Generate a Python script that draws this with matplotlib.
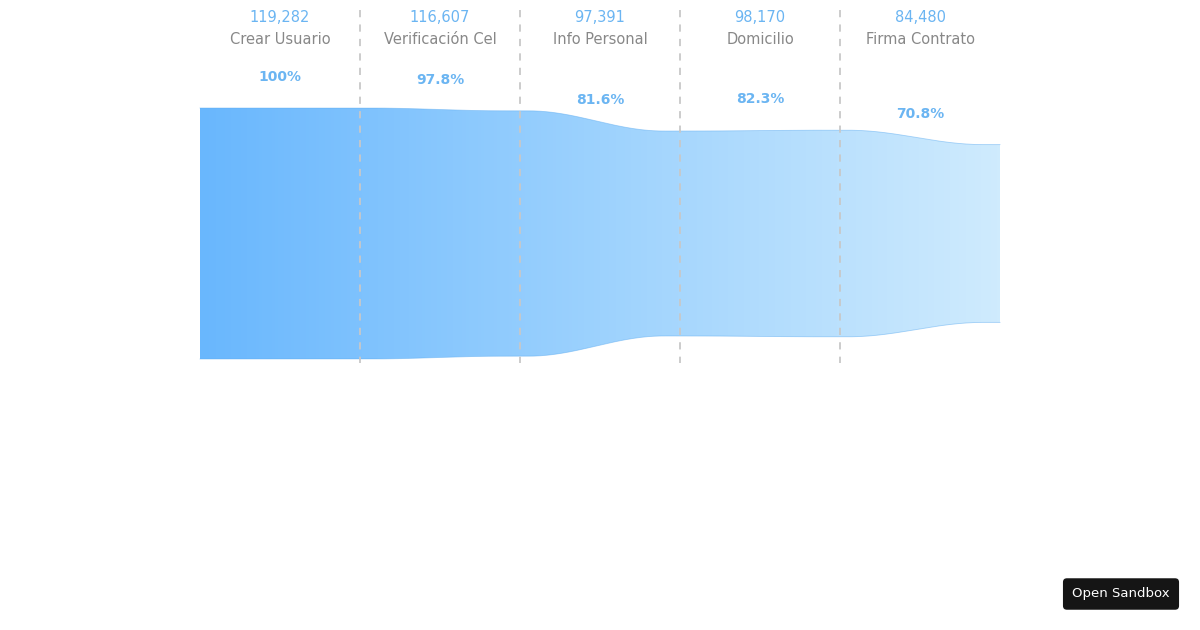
import numpy as np
import matplotlib
matplotlib.use("Agg")
import matplotlib.pyplot as plt
from matplotlib.colors import LinearSegmentedColormap
from matplotlib.path import Path
from matplotlib.patches import PathPatch

stages = ["Crear Usuario", "Verificación Cel", "Info Personal", "Domicilio", "Firma Contrato"]
values = [119282, 116607, 97391, 98170, 84480]

fig = plt.figure(figsize=(12, 6.3), dpi=100)
ax = fig.add_axes([0, 0, 1, 1])
ax.set_xlim(0, 1200)
ax.set_ylim(630, 0)
ax.axis("off")

x0, seg = 200, 160
cy, full_h = 233.5, 251
scale = full_h / values[0]

xs, tops, bots = [], [], []
for i, v in enumerate(values):
    xx = np.linspace(x0 + i * seg, x0 + (i + 1) * seg, 80)
    prev = values[i - 1] if i > 0 else v
    t = (xx - xx[0]) / seg
    s = np.clip((t - 0.05) / 0.85, 0, 1)
    s = (1 - np.cos(np.pi * s)) / 2
    h = (prev + (v - prev) * s) * scale
    xs.append(xx); tops.append(cy - h / 2); bots.append(cy + h / 2)
xs = np.concatenate(xs); tops = np.concatenate(tops); bots = np.concatenate(bots)

verts = list(zip(xs, tops)) + list(zip(xs[::-1], bots[::-1]))
path = Path(verts + [verts[0]], [Path.MOVETO] + [Path.LINETO] * (len(verts) - 1) + [Path.CLOSEPOLY])
patch = PathPatch(path, facecolor="none", edgecolor="none")
ax.add_patch(patch)
cmap = LinearSegmentedColormap.from_list("g", ["#69b7fd", "#9dd2fd", "#cfebfd"])
grad = np.linspace(0, 1, 256)[None, :]
im = ax.imshow(grad, extent=[200, 1000, 370, 100], cmap=cmap, aspect="auto", zorder=1)
im.set_clip_path(patch)
ax.plot(xs, tops, color="#5aaaf0", lw=0.6, alpha=0.5, zorder=2)
ax.plot(xs, bots, color="#5aaaf0", lw=0.6, alpha=0.5, zorder=2)

for i in range(1, 5):
    xl = x0 + i * seg
    ax.plot([xl, xl], [10, 363], color="#c8c8c8", lw=1.3, ls=(0, (4, 4)), zorder=3)

for i, (name, v) in enumerate(zip(stages, values)):
    xc = x0 + i * seg + seg / 2
    ax.text(xc, 17, f"{v:,}", color="#6bb5f2", fontsize=10.5, ha="center", va="center")
    ax.text(xc, 40, name, color="#888888", fontsize=10.5, ha="center", va="center")
    pct = v / values[0] * 100
    lab = "100%" if i == 0 else f"{pct:.1f}%"
    top = cy - v * scale / 2
    ax.text(xc, top - 31, lab, color="#6bb5f2", fontsize=10, fontweight="bold", ha="center", va="center")

ax.text(1121, 594, "Open Sandbox", color="white", fontsize=9.5, ha="center", va="center",
        bbox=dict(boxstyle="round,pad=0.7,rounding_size=0.3", fc="#151515", ec="none"))

fig.savefig("out.png", dpi=100)
